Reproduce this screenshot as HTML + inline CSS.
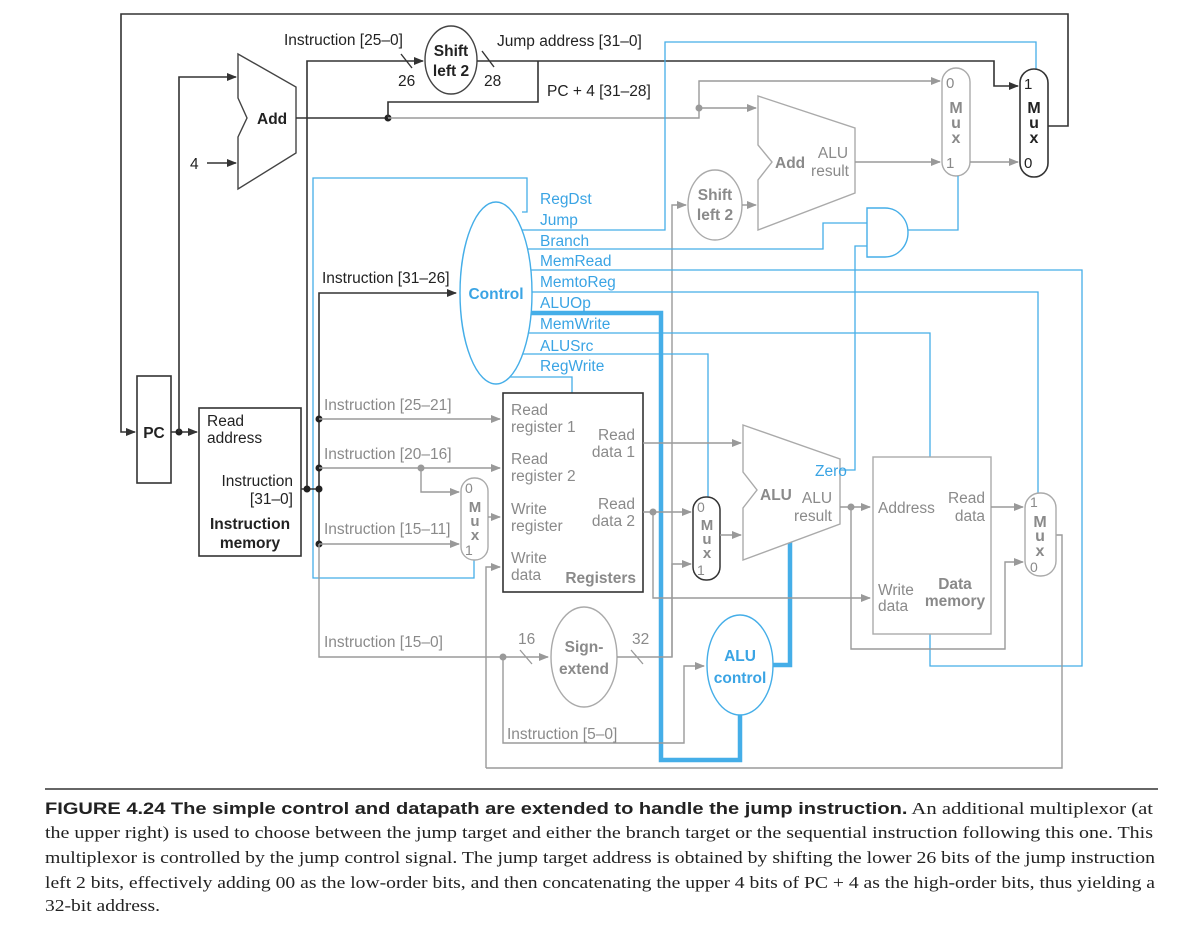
<!DOCTYPE html>
<html><head><meta charset="utf-8"><style>
html,body{margin:0;padding:0;background:#fff;width:1204px;height:930px;overflow:hidden}
svg{display:block}
text{font-family:"Liberation Sans",Arial,sans-serif}
.k{stroke:#333;stroke-width:1.6;fill:none}
.g{stroke:#9a9a9a;stroke-width:1.4;fill:none}
.b{stroke:#45aee8;stroke-width:1.3;fill:none}
.B{stroke:#45aee8;stroke-width:4.5;fill:none}
.tk{fill:#222;font-size:15.5px}
.tg{fill:#8a8a8a;font-size:15.5px}
.tb{fill:#3aa4e4;font-size:15.5px}
.bold{font-weight:bold}
.cap{font-family:"Liberation Serif",serif;font-size:17px;fill:#222}
</style></head><body>
<svg width="1204" height="930" viewBox="0 0 1204 930" xmlns="http://www.w3.org/2000/svg">
<defs>
<marker id="ak" markerWidth="10" markerHeight="8" refX="9" refY="4" orient="auto" markerUnits="userSpaceOnUse"><path d="M0,0 L10,4 L0,8 z" fill="#333"/></marker>
<marker id="ag" markerWidth="10" markerHeight="8" refX="9" refY="4" orient="auto" markerUnits="userSpaceOnUse"><path d="M0,0 L10,4 L0,8 z" fill="#999"/></marker>
</defs>

<path class="k" d="M1048,126 H1068 V14 H121 V432 H135" marker-end="url(#ak)"/>
<rect x="137" y="376" width="34" height="107" fill="#fff" stroke="#333" stroke-width="1.6"/>
<text x="154" y="438" class="tk bold" text-anchor="middle">PC</text>
<path class="k" d="M171,432 H197" marker-end="url(#ak)"/>
<circle cx="179" cy="432" r="3.5" fill="#222"/>
<path class="k" d="M179,432 V77 H236" marker-end="url(#ak)"/>
<text x="190" y="169" class="tk">4</text>
<path class="k" d="M207,163 H236" marker-end="url(#ak)"/>
<polygon points="238,54 296,87 296,153 238,189 238,137 247,118 238,98" fill="#fff" stroke="#444" stroke-width="1.4"/>
<text x="257" y="124" class="tk bold">Add</text>
<path class="k" d="M296,118 H388"/>
<circle cx="388" cy="118" r="3.5" fill="#222"/>
<path class="k" d="M388,118 V102 H538 V61"/>
<path class="g" d="M388,118 H699 V81 H940" marker-end="url(#ag)"/>
<circle cx="699" cy="108" r="3.5" fill="#999"/>
<path class="g" d="M699,108 H756" marker-end="url(#ag)"/>
<text x="547" y="96" class="tk">PC + 4 [31–28]</text>
<text x="284" y="45" class="tk">Instruction [25–0]</text>
<path class="k" d="M307,490 V61 H423" marker-end="url(#ak)"/>
<line x1="401" y1="54" x2="412" y2="68" stroke="#333" stroke-width="1.4"/>
<text x="398" y="86" class="tk">26</text>
<ellipse cx="451" cy="60" rx="26" ry="34" fill="#fff" stroke="#444" stroke-width="1.4"/>
<text x="451" y="56" class="tk bold" text-anchor="middle">Shift</text>
<text x="451" y="76" class="tk bold" text-anchor="middle">left 2</text>
<line x1="482" y1="51" x2="494" y2="67" stroke="#333" stroke-width="1.4"/>
<text x="484" y="86" class="tk">28</text>
<path class="k" d="M477,61 H994 V86 H1018" marker-end="url(#ak)"/>
<text x="497" y="46" class="tk">Jump address [31–0]</text>
<path class="b" d="M522,230 H665 V42 H1036 V70"/>
<rect x="1020" y="69" width="28" height="108" rx="14" fill="#fff" stroke="#333" stroke-width="1.6"/>
<text x="1024" y="89" class="tk" style="font-size:15px">1</text>
<text x="1034" y="113" class="tk bold" text-anchor="middle" style="font-size:16px">M</text>
<text x="1034" y="128" class="tk bold" text-anchor="middle" style="font-size:16px">u</text>
<text x="1034" y="143" class="tk bold" text-anchor="middle" style="font-size:16px">x</text>
<text x="1024" y="168" class="tk" style="font-size:15px">0</text>
<rect x="942" y="68" width="28" height="108" rx="14" fill="#fff" stroke="#aaa" stroke-width="1.4"/>
<text x="946" y="88" class="tg" style="font-size:15px">0</text>
<text x="956" y="113" class="tg bold" text-anchor="middle" style="font-size:16px">M</text>
<text x="956" y="128" class="tg bold" text-anchor="middle" style="font-size:16px">u</text>
<text x="956" y="143" class="tg bold" text-anchor="middle" style="font-size:16px">x</text>
<text x="946" y="168" class="tg" style="font-size:15px">1</text>
<path class="g" d="M970,162 H1018" marker-end="url(#ag)"/>
<polygon points="758,96 855,128 855,193 758,230 758,180 772,162 758,145" fill="#fff" stroke="#aaa" stroke-width="1.4"/>
<text x="775" y="168" class="tg bold">Add</text>
<text x="833" y="158" class="tg" text-anchor="middle">ALU</text>
<text x="830" y="176" class="tg" text-anchor="middle">result</text>
<path class="g" d="M855,162 H940" marker-end="url(#ag)"/>
<ellipse cx="715" cy="205" rx="27" ry="35" fill="#fff" stroke="#aaa" stroke-width="1.4"/>
<text x="715" y="200" class="tg bold" text-anchor="middle">Shift</text>
<text x="715" y="220" class="tg bold" text-anchor="middle">left 2</text>
<path class="g" d="M742,205 H756" marker-end="url(#ag)"/>
<path class="g" d="M672,657 V205 H686" marker-end="url(#ag)"/>
<path d="M867,208 H885 A23,24.5 0 0 1 885,257 H867 Z" fill="#fff" stroke="#45aee8" stroke-width="1.4"/>
<path class="b" d="M908,230 H958 V176"/>
<path class="b" d="M522,249 H823 V223 H867"/>
<path class="b" d="M840,470 H855 V246 H867"/>
<path class="b" d="M522,270 H1082 V666 H930 V634"/>
<path class="b" d="M526,292 H1038 V493"/>
<path class="b" d="M526,333 H930 V457"/>
<path class="b" d="M522,354 H708 V497"/>
<path class="b" d="M510,377 H572 V393"/>
<path class="b" d="M522,212 H527 V178 H313 V578 H474 V560"/>
<path class="B" d="M530,313 H661 V760 H740 V715"/>
<path class="B" d="M773,665 H790 V541"/>
<ellipse cx="496" cy="293" rx="36" ry="91" fill="#fff" stroke="#45aee8" stroke-width="1.4"/>
<text x="496" y="299" class="tb bold" text-anchor="middle">Control</text>
<g class="tb">
<text x="540" y="204">RegDst</text>
<text x="540" y="225">Jump</text>
<text x="540" y="246">Branch</text>
<text x="540" y="266">MemRead</text>
<text x="540" y="287">MemtoReg</text>
<text x="540" y="308">ALUOp</text>
<text x="540" y="329">MemWrite</text>
<text x="540" y="351">ALUSrc</text>
<text x="540" y="371">RegWrite</text>
</g>
<text x="322" y="283" class="tk">Instruction [31–26]</text>
<path class="k" d="M301,489 H319 V293 H456" marker-end="url(#ak)"/>
<path class="k" d="M319,489 V544"/>
<circle cx="307" cy="489" r="3.5" fill="#222"/>
<circle cx="319" cy="489" r="3.5" fill="#222"/>
<circle cx="319" cy="419" r="3.5" fill="#222"/>
<circle cx="319" cy="468" r="3.5" fill="#222"/>
<circle cx="319" cy="544" r="3.5" fill="#222"/>
<path class="g" d="M319,419 H500" marker-end="url(#ag)"/>
<path class="g" d="M319,468 H500" marker-end="url(#ag)"/>
<circle cx="421" cy="468" r="3.5" fill="#999"/>
<path class="g" d="M421,468 V492 H459" marker-end="url(#ag)"/>
<path class="g" d="M319,544 H459" marker-end="url(#ag)"/>
<path class="g" d="M319,544 V657 H548" marker-end="url(#ag)"/>
<text x="324" y="410" class="tg">Instruction [25–21]</text>
<text x="324" y="459" class="tg">Instruction [20–16]</text>
<text x="324" y="534" class="tg">Instruction [15–11]</text>
<text x="324" y="647" class="tg">Instruction [15–0]</text>
<rect x="199" y="408" width="102" height="148" fill="#fff" stroke="#333" stroke-width="1.6"/>
<text x="207" y="426" class="tk">Read</text>
<text x="207" y="443" class="tk">address</text>
<text x="293" y="486" class="tk" text-anchor="end">Instruction</text>
<text x="293" y="504" class="tk" text-anchor="end">[31–0]</text>
<text x="250" y="529" class="tk bold" text-anchor="middle">Instruction</text>
<text x="250" y="548" class="tk bold" text-anchor="middle">memory</text>
<rect x="461" y="478" width="27" height="82" rx="13" fill="#fff" stroke="#aaa" stroke-width="1.4"/>
<text x="465" y="493" class="tg" style="font-size:14px">0</text>
<text x="475" y="512" class="tg bold" text-anchor="middle" style="font-size:15px">M</text>
<text x="475" y="526" class="tg bold" text-anchor="middle" style="font-size:15px">u</text>
<text x="475" y="540" class="tg bold" text-anchor="middle" style="font-size:15px">x</text>
<text x="465" y="555" class="tg" style="font-size:14px">1</text>
<path class="g" d="M488,517 H500" marker-end="url(#ag)"/>
<rect x="503" y="393" width="140" height="199" fill="#fff" stroke="#333" stroke-width="1.6"/>
<g class="tg">
<text x="511" y="415">Read</text>
<text x="511" y="432">register 1</text>
<text x="511" y="464">Read</text>
<text x="511" y="481">register 2</text>
<text x="511" y="514">Write</text>
<text x="511" y="531">register</text>
<text x="511" y="563">Write</text>
<text x="511" y="580">data</text>
<text x="635" y="440" text-anchor="end">Read</text>
<text x="635" y="457" text-anchor="end">data 1</text>
<text x="635" y="509" text-anchor="end">Read</text>
<text x="635" y="526" text-anchor="end">data 2</text>
<text x="636" y="583" text-anchor="end" class="bold">Registers</text>
</g>
<path class="g" d="M486,768 V567 H500" marker-end="url(#ag)"/>
<path class="g" d="M486,768 H1062 V535 H1056"/>
<ellipse cx="584" cy="657" rx="33" ry="50" fill="#fff" stroke="#aaa" stroke-width="1.4"/>
<text x="584" y="652" class="tg bold" text-anchor="middle">Sign-</text>
<text x="584" y="674" class="tg bold" text-anchor="middle">extend</text>
<text x="518" y="644" class="tg">16</text>
<line x1="520" y1="650" x2="532" y2="664" stroke="#999" stroke-width="1.3"/>
<text x="632" y="644" class="tg">32</text>
<line x1="631" y1="650" x2="643" y2="664" stroke="#999" stroke-width="1.3"/>
<circle cx="503" cy="657" r="3.5" fill="#999"/>
<path class="g" d="M503,657 V743 H684 V666 H704" marker-end="url(#ag)"/>
<path class="g" d="M617,657 H672 V564 H691" marker-end="url(#ag)"/>
<text x="507" y="739" class="tg">Instruction [5–0]</text>
<path class="g" d="M643,443 H741" marker-end="url(#ag)"/>
<path class="g" d="M643,512 H691" marker-end="url(#ag)"/>
<circle cx="653" cy="512" r="3.5" fill="#999"/>
<path class="g" d="M653,512 V598 H870" marker-end="url(#ag)"/>
<rect x="693" y="497" width="27" height="83" rx="13" fill="#fff" stroke="#333" stroke-width="1.5"/>
<text x="697" y="512" class="tg" style="font-size:14px">0</text>
<text x="707" y="530" class="tg bold" text-anchor="middle" style="font-size:15px">M</text>
<text x="707" y="544" class="tg bold" text-anchor="middle" style="font-size:15px">u</text>
<text x="707" y="558" class="tg bold" text-anchor="middle" style="font-size:15px">x</text>
<text x="697" y="575" class="tg" style="font-size:14px">1</text>
<path class="g" d="M720,535 H741" marker-end="url(#ag)"/>
<polygon points="743,425 840,459 840,524 743,560 743,508 757,490 743,472" fill="#fff" stroke="#aaa" stroke-width="1.4"/>
<text x="760" y="500" class="tg bold">ALU</text>
<text x="815" y="476" class="tb">Zero</text>
<text x="817" y="503" class="tg" text-anchor="middle">ALU</text>
<text x="813" y="521" class="tg" text-anchor="middle">result</text>
<path class="g" d="M840,507 H870" marker-end="url(#ag)"/>
<circle cx="851" cy="507" r="3.5" fill="#999"/>
<path class="g" d="M851,507 V649 H1005 V562 H1023" marker-end="url(#ag)"/>
<ellipse cx="740" cy="665" rx="33" ry="50" fill="#fff" stroke="#45aee8" stroke-width="1.4"/>
<text x="740" y="661" class="tb bold" text-anchor="middle">ALU</text>
<text x="740" y="683" class="tb bold" text-anchor="middle">control</text>
<rect x="873" y="457" width="118" height="177" fill="#fff" stroke="#aaa" stroke-width="1.4"/>
<g class="tg">
<text x="878" y="513">Address</text>
<text x="985" y="503" text-anchor="end">Read</text>
<text x="985" y="521" text-anchor="end">data</text>
<text x="878" y="595">Write</text>
<text x="878" y="611">data</text>
<text x="955" y="589" text-anchor="middle" class="bold">Data</text>
<text x="955" y="606" text-anchor="middle" class="bold">memory</text>
</g>
<path class="g" d="M991,507 H1023" marker-end="url(#ag)"/>
<rect x="1025" y="493" width="31" height="83" rx="15" fill="#fff" stroke="#aaa" stroke-width="1.4"/>
<text x="1030" y="507" class="tg" style="font-size:14px">1</text>
<text x="1040" y="527" class="tg bold" text-anchor="middle" style="font-size:16px">M</text>
<text x="1040" y="541" class="tg bold" text-anchor="middle" style="font-size:16px">u</text>
<text x="1040" y="556" class="tg bold" text-anchor="middle" style="font-size:16px">x</text>
<text x="1030" y="572" class="tg" style="font-size:14px">0</text>

<line x1="45" y1="789" x2="1158" y2="789" stroke="#333" stroke-width="1.5"/>
<text x="45" y="814" class="cap" textLength="1108" lengthAdjust="spacingAndGlyphs"><tspan style="font-family:'Liberation Sans',sans-serif;font-weight:bold;font-size:16.5px">FIGURE 4.24   The simple control and datapath are extended to handle the jump instruction.</tspan> An additional multiplexor (at</text>
<text x="45" y="838" class="cap" textLength="1108" lengthAdjust="spacingAndGlyphs">the upper right) is used to choose between the jump target and either the branch target or the sequential instruction following this one. This</text>
<text x="45" y="863" class="cap" textLength="1110" lengthAdjust="spacingAndGlyphs">multiplexor is controlled by the jump control signal. The jump target address is obtained by shifting the lower 26 bits of the jump instruction</text>
<text x="45" y="888" class="cap" textLength="1110" lengthAdjust="spacingAndGlyphs">left 2 bits, effectively adding 00 as the low-order bits, and then concatenating the upper 4 bits of PC + 4 as the high-order bits, thus yielding a</text>
<text x="45" y="911" class="cap" textLength="115" lengthAdjust="spacingAndGlyphs">32-bit address.</text>
</svg>
</body></html>
